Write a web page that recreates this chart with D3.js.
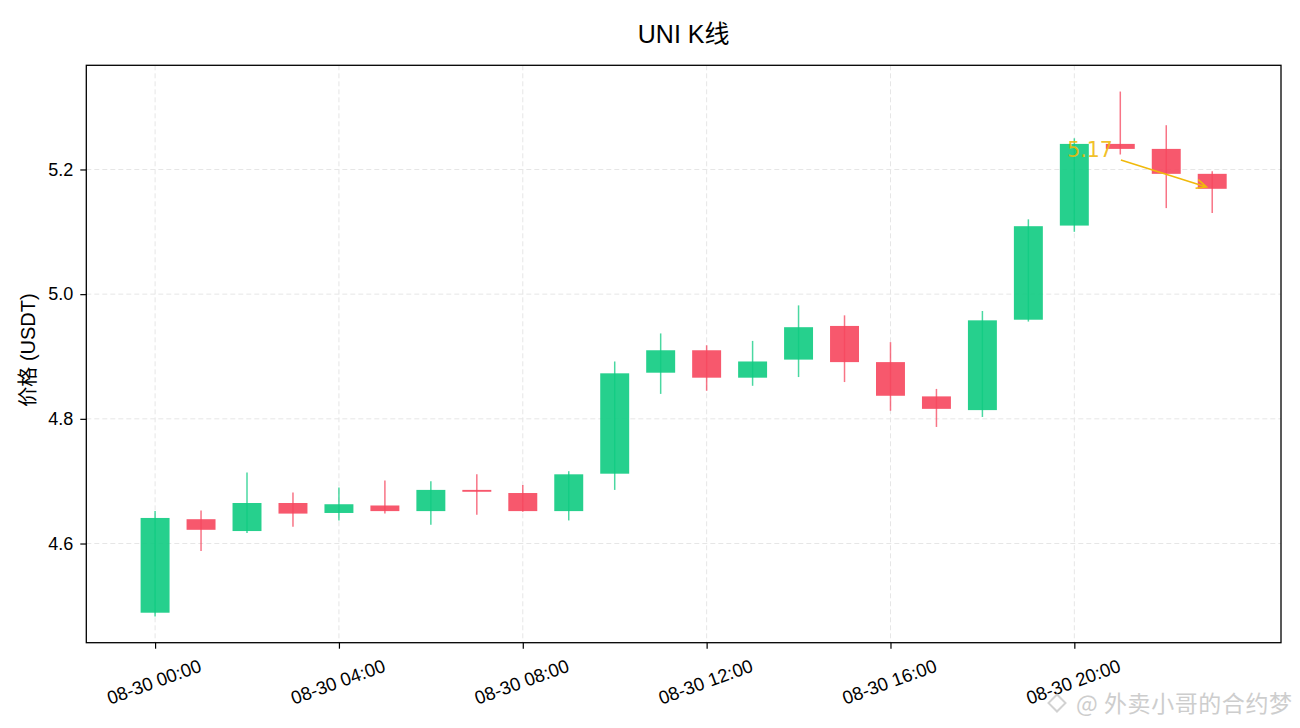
<!DOCTYPE html>
<html>
<head>
<meta charset="utf-8">
<script src="https://cdn.jsdelivr.net/npm/d3@7"></script>
<style>
  body { margin: 0; background: #fff; }
  text { font-family: "Liberation Sans", "Noto Sans CJK SC", sans-serif; }
</style>
</head>
<body>
<svg id="chart" width="1300" height="728"></svg>
<script>
// hourly candles, UNI/USDT
const times = ["08-30 00:00","08-30 01:00","08-30 02:00","08-30 03:00","08-30 04:00","08-30 05:00",
               "08-30 06:00","08-30 07:00","08-30 08:00","08-30 09:00","08-30 10:00","08-30 11:00",
               "08-30 12:00","08-30 13:00","08-30 14:00","08-30 15:00","08-30 16:00","08-30 17:00",
               "08-30 18:00","08-30 19:00","08-30 20:00","08-30 21:00","08-30 22:00","08-30 23:00"];
const opens  = [4.489,4.639,4.620,4.665,4.649,4.661,4.652,4.686,4.681,4.652,4.712,4.874,
                4.910,4.866,4.895,4.949,4.891,4.836,4.814,4.959,5.110,5.241,5.233,5.193];
const highs  = [4.652,4.653,4.714,4.682,4.690,4.701,4.700,4.711,4.694,4.716,4.892,4.937,
                4.918,4.925,4.982,4.966,4.923,4.848,4.973,5.120,5.250,5.325,5.271,5.197];
const lows   = [4.483,4.588,4.617,4.627,4.637,4.648,4.630,4.646,4.651,4.637,4.686,4.840,
                4.845,4.853,4.867,4.859,4.813,4.787,4.803,4.956,5.100,5.224,5.138,5.130];
const closes = [4.641,4.622,4.665,4.648,4.663,4.652,4.686,4.683,4.652,4.711,4.873,4.910,
                4.866,4.892,4.947,4.891,4.837,4.816,4.958,5.109,5.241,5.233,5.193,5.169];
const xTickLabels = ["08-30 00:00","08-30 04:00","08-30 08:00","08-30 12:00","08-30 16:00","08-30 20:00"];
const yTicks = [4.6, 4.8, 5.0, 5.2];

const UP = "#0ECB81", DOWN = "#F6465D", GOLD = "#F0B90B";
const margin = {top: 65.3, right: 19, bottom: 85.3, left: 86.3};
const W = 1300, H = 728;
const parse = d3.timeParse("%m-%d %H:%M");
const HOUR = 3600e3;
const bodyW = 0.63 * HOUR;

const data = times.map((t, i) => ({
  t: parse(t), o: opens[i], h: highs[i], l: lows[i], c: closes[i]
}));

const svg = d3.select("#chart");

// x domain: candle extent + 5% margins like matplotlib
const t0 = +data[0].t - bodyW / 2, t1 = +data[data.length - 1].t + bodyW / 2;
const xpad = (t1 - t0) * 0.05;
const x = d3.scaleTime()
  .domain([new Date(t0 - xpad), new Date(t1 + xpad)])
  .range([margin.left, W - margin.right]);

const lo = d3.min(lows), hi = d3.max(highs);
const ypad = (hi - lo) * 0.05;
const y = d3.scaleLinear()
  .domain([lo - ypad, hi + ypad])
  .range([H - margin.bottom, margin.top]);

const xTickDates = xTickLabels.map(parse);

// grid
const grid = svg.append("g").attr("stroke", "#e6e6e6").attr("stroke-width", 1)
  .attr("stroke-dasharray", "5,3");
grid.selectAll(".gx").data(xTickDates).join("line")
  .attr("x1", d => x(d)).attr("x2", d => x(d))
  .attr("y1", margin.top).attr("y2", H - margin.bottom);
grid.selectAll(".gy").data(yTicks).join("line")
  .attr("x1", margin.left).attr("x2", W - margin.right)
  .attr("y1", d => y(d)).attr("y2", d => y(d));

// wicks
svg.append("g").selectAll("line").data(data).join("line")
  .attr("x1", d => x(d.t)).attr("x2", d => x(d.t))
  .attr("y1", d => y(d.h)).attr("y2", d => y(d.l))
  .attr("stroke", d => d.c >= d.o ? UP : DOWN)
  .attr("stroke-opacity", 0.75)
  .attr("stroke-width", 1.5);

// bodies
svg.append("g").selectAll("rect").data(data).join("rect")
  .attr("x", d => x(new Date(+d.t - bodyW / 2)))
  .attr("width", d => x(new Date(+d.t + bodyW / 2)) - x(new Date(+d.t - bodyW / 2)))
  .attr("y", d => y(Math.max(d.o, d.c)))
  .attr("height", d => Math.max(1, Math.abs(y(d.o) - y(d.c))))
  .attr("fill", d => d.c >= d.o ? UP : DOWN)
  .attr("fill-opacity", 0.9);

// axes
const fmt = d3.timeFormat("%m-%d %H:%M");
const xAxis = svg.append("g")
  .attr("transform", `translate(0,${H - margin.bottom})`)
  .call(d3.axisBottom(x).tickValues(xTickDates).tickFormat(fmt).tickSize(6).tickSizeOuter(0));
xAxis.select(".domain").remove();
xAxis.selectAll(".tick line").attr("stroke", "#000").attr("stroke-width", 1.2);
xAxis.selectAll(".tick text")
  .attr("y", 0).attr("dy", "0.35em")
  .attr("text-anchor", "middle")
  .attr("transform", "translate(-1.5,39) rotate(-20)")
  .attr("font-size", 18.5).attr("fill", "#000")
  .style("font-family", '"Liberation Sans", sans-serif');

const yAxis = svg.append("g")
  .attr("transform", `translate(${margin.left},0)`)
  .call(d3.axisLeft(y).tickValues(yTicks).tickFormat(d3.format(".1f")).tickSize(6).tickPadding(7));
yAxis.select(".domain").remove();
yAxis.selectAll(".tick line").attr("stroke", "#000").attr("stroke-width", 1.2);
yAxis.selectAll(".tick text").attr("font-size", 18).attr("fill", "#000")
  .style("font-family", '"Liberation Sans", sans-serif');

// frame
svg.append("rect")
  .attr("x", margin.left).attr("y", margin.top)
  .attr("width", W - margin.left - margin.right)
  .attr("height", H - margin.top - margin.bottom)
  .attr("fill", "none").attr("stroke", "#000").attr("stroke-width", 1.3);

// title + y label
svg.append("text")
  .attr("x", (margin.left + W - margin.right) / 2).attr("y", 43)
  .attr("text-anchor", "middle").attr("font-size", 25).attr("fill", "#000")
  .text("UNI K线");

svg.append("text")
  .attr("transform", `translate(28,${(margin.top + H - margin.bottom) / 2 - 4}) rotate(-90)`)
  .attr("text-anchor", "middle").attr("dy", "0.35em")
  .attr("font-size", 20).attr("fill", "#000")
  .text("价格 (USDT)");

// last close annotation
const last = data[data.length - 1];
const px = x(last.t), py = y(last.c);
const tx = px - 145, ty = py - 31.5;
const label = svg.append("text")
  .attr("x", tx).attr("y", ty)
  .attr("font-size", 20.5).attr("fill", GOLD).attr("fill-opacity", 0.9)
  .style("font-family", '"DejaVu Sans", sans-serif')
  .text(last.c.toFixed(2));
const bb = label.node().getBBox();
const cx = bb.x + bb.width / 2, cy = bb.y + bb.height / 2;
const sx = bb.x + bb.width + 8;
const sy = cy + (py - cy) * (sx - cx) / (px - cx);
const ang = Math.atan2(py - sy, px - sx);
const ex = px - 6 * Math.cos(ang), ey = py - 6 * Math.sin(ang);
const hl = 11, hw = 0.42;
svg.append("path")
  .attr("d", `M${sx},${sy}L${ex},${ey}` +
    `M${ex - hl * Math.cos(ang - hw)},${ey - hl * Math.sin(ang - hw)}L${ex},${ey}` +
    `L${ex - hl * Math.cos(ang + hw)},${ey - hl * Math.sin(ang + hw)}`)
  .attr("fill", "none").attr("stroke", GOLD).attr("stroke-width", 1.6);

// watermark
const wm = svg.append("g").attr("opacity", 0.75);
wm.append("rect")
  .attr("x", 1051).attr("y", 697).attr("width", 12).attr("height", 12)
  .attr("transform", "rotate(45,1057,703)")
  .attr("fill", "none").attr("stroke", "#c4c4c4").attr("stroke-width", 2);
wm.append("text")
  .attr("x", 1076).attr("y", 712)
  .attr("font-size", 23).attr("fill", "#bdbdbd")
  .attr("textLength", 216).attr("lengthAdjust", "spacing")
  .style("font-family", '"Noto Sans CJK SC", sans-serif')
  .text("@ 外卖小哥的合约梦");
</script>
</body>
</html>
